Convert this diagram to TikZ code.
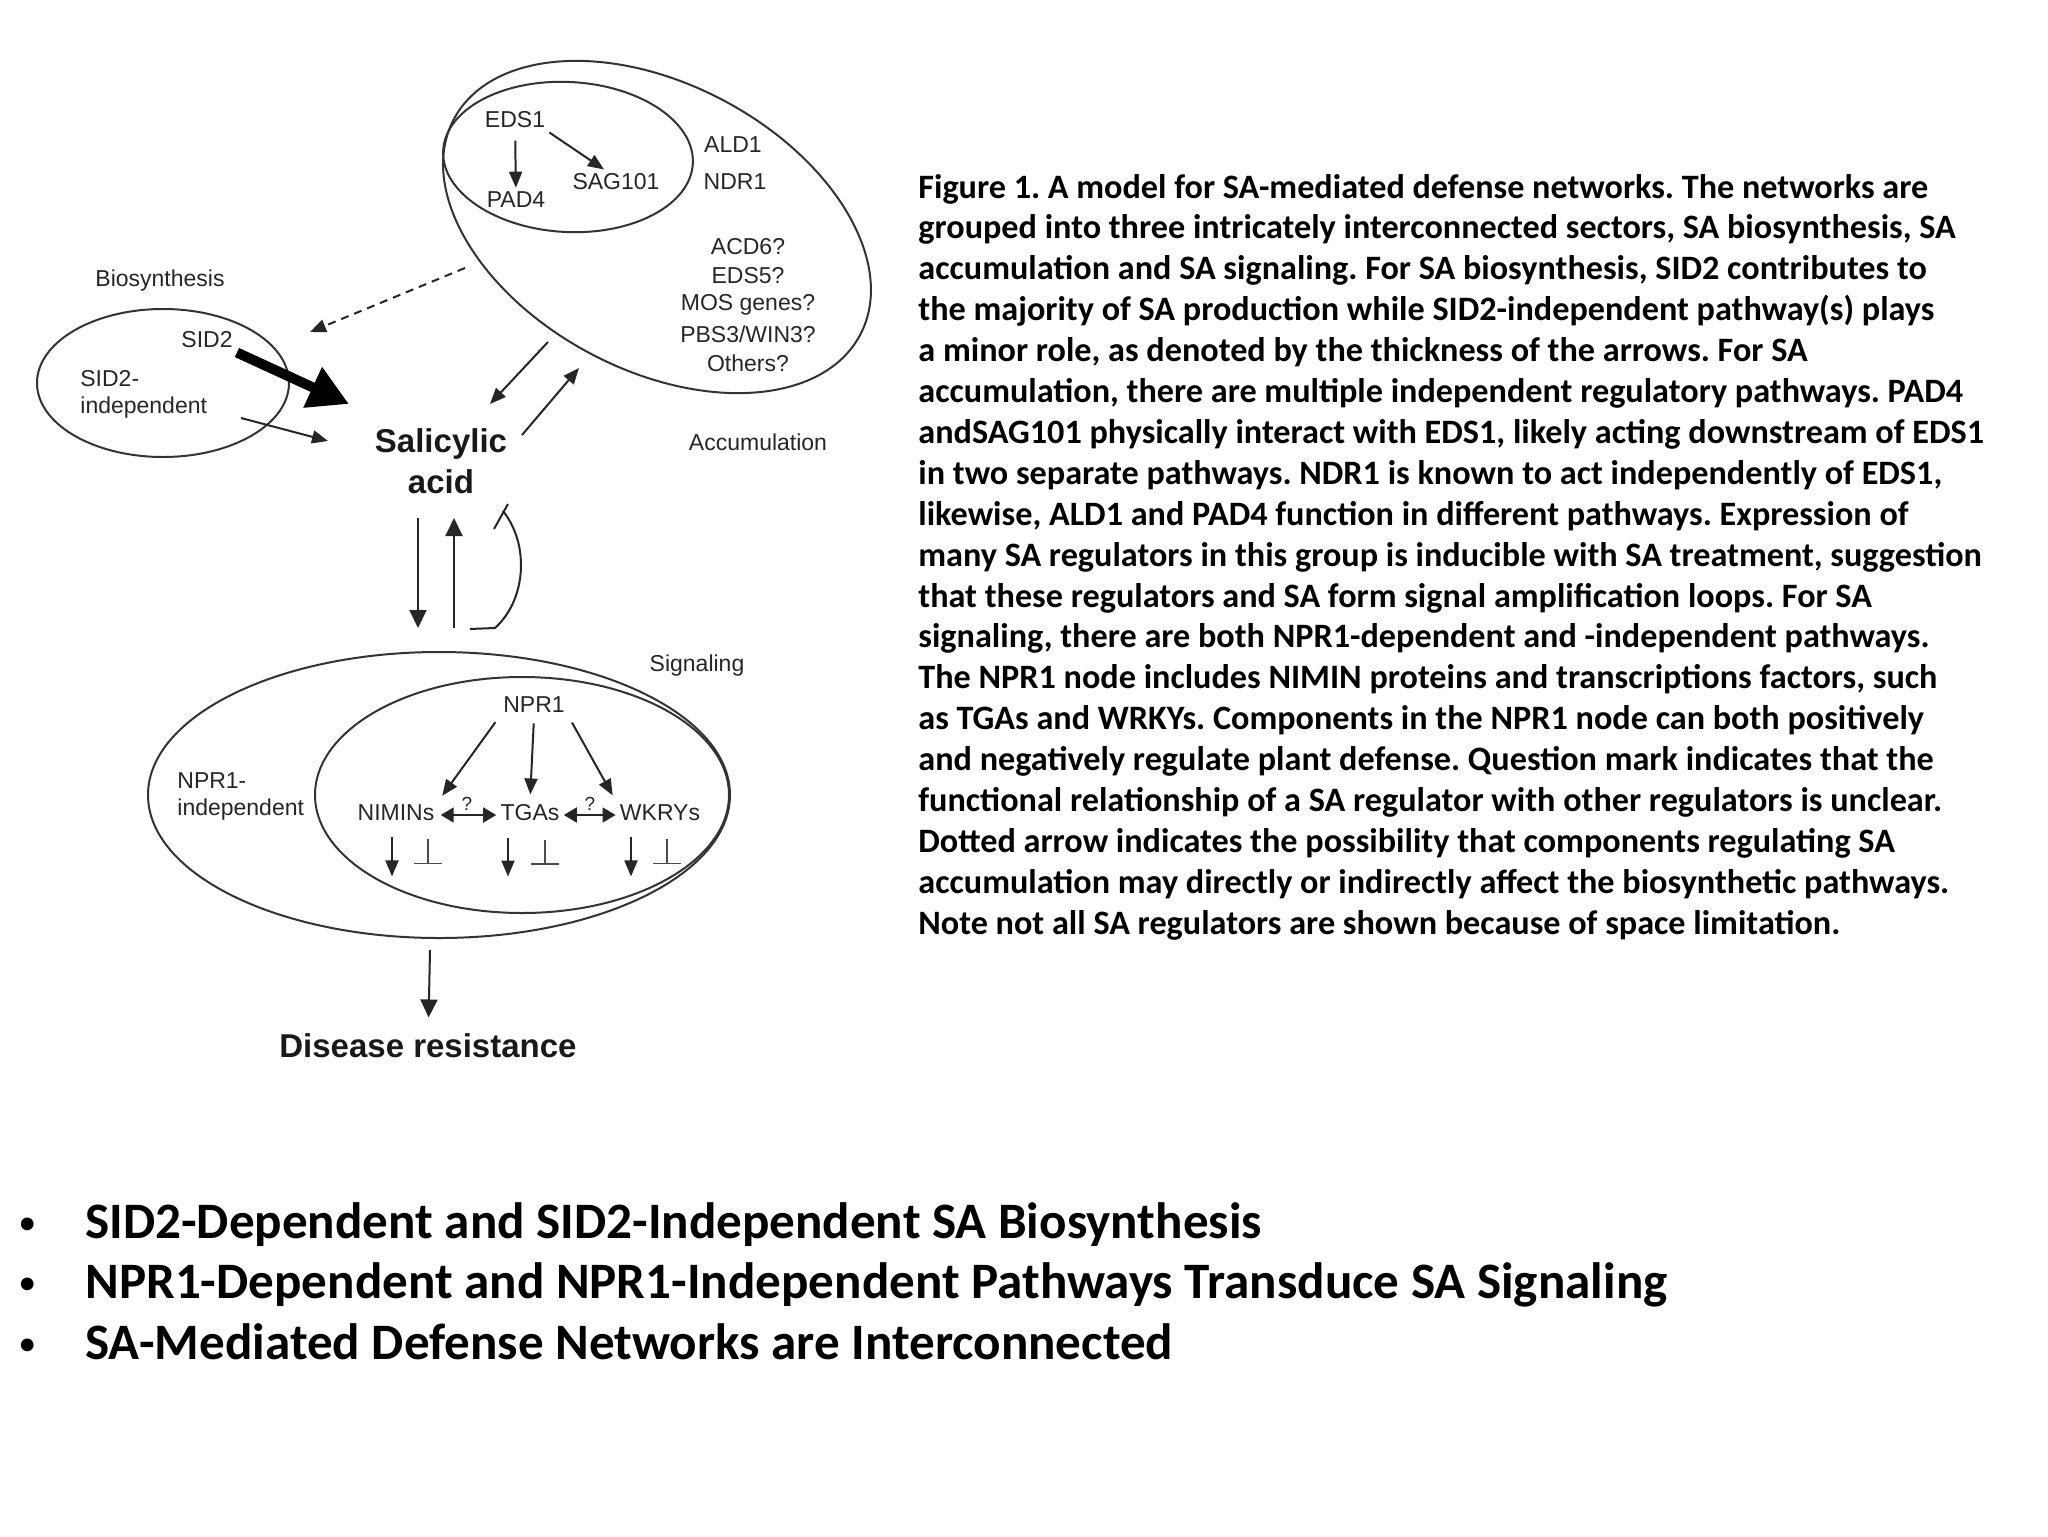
\documentclass[tikz,border=0pt]{standalone}
\usepackage{fontspec}
\setmainfont{Liberation Sans}
\newfontfamily\capfont{Carlito}
\usetikzlibrary{arrows.meta}
\frenchspacing

\tikzset{
  lbl/.style={font=\fontsize{11.5}{13.5}\selectfont, inner sep=2pt, text=black!85},
  satext/.style={font=\fontsize{16.5}{20.5}\selectfont\bfseries, inner sep=2pt, align=center, text=black!90},
  qmark/.style={font=\fontsize{9.5}{10}\selectfont, inner sep=0pt, text=black!85},
  ring/.style={draw=black!80, line width=1pt},
  flow/.style={draw=black!85, line width=1pt, -{Triangle[length=8pt,width=6.5pt]}},
  flowbig/.style={draw=black!85, line width=1pt, -{Triangle[length=9pt,width=8.5pt]}},
  both/.style={draw=black!85, line width=0.8pt, {Triangle[length=6.5pt,width=7.5pt]}-{Triangle[length=6.5pt,width=7.5pt]}},
  block/.style={draw=black!70, line width=0.8pt, -{Bar[width=14pt]}},
  captext/.style={font=\capfont\bfseries\fontsize{17.1}{20.45}\selectfont, anchor=base west, inner sep=0pt},
  point/.style={font=\capfont\bfseries\fontsize{25.55}{30.4}\selectfont, anchor=base west, inner sep=0pt},
}

\begin{document}
\begin{tikzpicture}[x=0.5pt,y=-0.5pt]

    % white page, reference size
    \fill[white] (0,0) rectangle (2048,1536);
    \useasboundingbox (0,0) rectangle (2048,1536);

    % sectors
    \draw[ring, rotate around={-28:(657,227)}] (657,227) ellipse [x radius=115pt, y radius=71.5pt];
    \draw[ring, rotate around={-3:(568,157)}] (568,157) ellipse [x radius=62.5pt, y radius=37.5pt];
    \draw[ring] (163,383) ellipse [x radius=63pt, y radius=37pt];
    \draw[ring] (439,795) ellipse [x radius=145.5pt, y radius=71.5pt];
    \draw[ring] (522,795) ellipse [x radius=103.5pt, y radius=59pt];

    % biosynthesis
    \node[lbl] (bio) at (160,281) {Biosynthesis};
    \node[lbl] (sid2) at (207,340) {SID2};
    \node[lbl, align=left, anchor=west] (sid2i) at (76,394) {SID2-\\independent};

    % salicylic acid
    \node[satext] (sa) at (441,461) {Salicylic\\acid};

    % accumulation
    \node[lbl] (accum) at (758,442) {Accumulation};
    \node[lbl] (eds1) at (515,120) {EDS1};
    \node[lbl] (pad4) at (516,200) {PAD4};
    \node[lbl] (sag) at (616,182) {SAG101};
    \node[lbl] (ald1) at (733,145) {ALD1};
    \node[lbl] (ndr1) at (735,182) {NDR1};
    \foreach \g [count=\i from 0] in {ACD6?, EDS5?, MOS genes?, PBS3/WIN3?, Others?}
        \node[lbl] (acc\i) at (748,{247+29*\i}) {\g};

    % signaling
    \node[lbl] (signal) at (697,666) {Signaling};
    \node[lbl] (npr1) at (534,705) {NPR1};
    \node[lbl, align=left, anchor=west] (npr1i) at (173,796) {NPR1-\\independent};
    \node[lbl] (nimin) at (396,813) {NIMINs};
    \node[lbl] (tga) at (530,813) {TGAs};
    \node[lbl] (wrky) at (660,813) {WKRYs};
    \node[qmark] (q1) at (467,804) {?};
    \node[qmark] (q2) at (590,804) {?};

    \node[satext] (dis) at (428,1046) {Disease resistance};

    % free ends of connectors
    \coordinate (acc-w) at (465,268);
    \coordinate (bio-ne) at (310,332);
    \coordinate (sa-in1) at (349,404);
    \coordinate (sid2i-e) at (241,418);
    \coordinate (sa-in2) at (328,441);
    \coordinate (acc-sw) at (548,342);
    \coordinate (sa-ne) at (490,404);
    \coordinate (sa-e) at (522,435);
    \coordinate (acc-s) at (579,368);
    \coordinate (sa-s1) at (418,518);
    \coordinate (sig-n1) at (418,628);
    \coordinate (sig-n2) at (454,628);
    \coordinate (sa-s2) at (454,518);
    \coordinate (loop-a) at (470,629);
    \coordinate (loop-b) at (495,628);
    \coordinate (loop-c) at (503,511);
    \coordinate (sig-s) at (430,950);

    % biosynthesis arrows
    \draw[flow, dash pattern=on 4pt off 3pt] (acc-w) -- (bio-ne);
    \draw[draw=black, line width=5pt, -{Triangle[length=20pt,width=21pt]}] (sid2.south east) -- (sa-in1);
    \draw[flow] (sid2i-e) -- (sa-in2);

    % accumulation arrows
    \draw[flow, shorten <=4pt] (eds1) -- (pad4);
    \draw[flow] (eds1.south east) -- ([xshift=-6pt]sag.north);
    \draw[flow] (acc-sw) -- (sa-ne);
    \draw[flow] (sa-e) -- (acc-s);

    % to and from signaling
    \draw[flowbig] (sa-s1) -- (sig-n1);
    \draw[flowbig] (sig-n2) -- (sa-s2);
    \draw[draw=black!85, line width=1pt] (loop-a) -- (loop-b) .. controls (526,600) and (530,545) .. (loop-c);
    \draw[draw=black!85, line width=1pt] (494,529) -- (508,504);

    % NPR1 node
    \draw[flow, shorten <=3pt, shorten >=3pt] (npr1.south west) -- (nimin.north east);
    \draw[flow, shorten <=3pt, shorten >=3pt] (npr1.south) -- (tga.north);
    \draw[flow, shorten <=3pt, shorten >=3pt] (npr1.south east) -- (wrky.north west);
    \draw[both, shorten <=1pt] ([yshift=-1pt]nimin.east) -- ([yshift=-1pt]tga.west);
    \draw[both] ([yshift=-1pt]tga.east) -- ([yshift=-1pt]wrky.west);
    \foreach \n/\da/\db in {nimin/-2/16, tga/-11/7.5, wrky/-14.5/3.5} {
        \draw[flow] ([shift={(\da pt,-6pt)}]\n.south) -- ([shift={(\da pt,-25.5pt)}]\n.south);
        \draw[block] ([shift={(\db pt,-7pt)}]\n.south) -- ([shift={(\db pt,-19.5pt)}]\n.south);
    }

    \draw[flowbig, shorten >=6pt] (sig-s) -- (dis);

    % caption
    \foreach \txt [count=\i from 0] in {
        {Figure 1. A model for SA-mediated defense networks. The networks are},
        {grouped into three intricately interconnected sectors, SA biosynthesis, SA},
        {accumulation and SA signaling. For SA biosynthesis, SID2 contributes to},
        {the majority of SA production while SID2-independent pathway(s) plays},
        {a minor role, as denoted by the thickness of the arrows. For SA},
        {accumulation, there are multiple independent regulatory pathways. PAD4},
        {andSAG101 physically interact with EDS1, likely acting downstream of EDS1},
        {in two separate pathways. NDR1 is known to act independently of EDS1,},
        {likewise, ALD1 and PAD4 function in different pathways. Expression of},
        {many SA regulators in this group is inducible with SA treatment, suggestion},
        {that these regulators and SA form signal amplification loops. For SA},
        {signaling, there are both NPR1-dependent and -independent pathways.},
        {The NPR1 node includes NIMIN proteins and transcriptions factors, such},
        {as TGAs and WRKYs. Components in the NPR1 node can both positively},
        {and negatively regulate plant defense. Question mark indicates that the},
        {functional relationship of a SA regulator with other regulators is unclear.},
        {Dotted arrow indicates the possibility that components regulating SA},
        {accumulation may directly or indirectly affect the biosynthetic pathways.},
        {Note not all SA regulators are shown because of space limitation.}}
        \node[captext] (cap\i) at (918,{198+40.9*\i}) {\txt};

    % bullet points
    \foreach \txt [count=\i from 0] in {
        {SID2-Dependent and SID2-Independent SA Biosynthesis},
        {NPR1-Dependent and NPR1-Independent Pathways Transduce SA Signaling},
        {SA-Mediated Defense Networks are Interconnected}} {
        \node[point, font=\capfont\fontsize{18}{20}\selectfont] (dot\i) at (18,{1234+60.5*\i}) {•};
        \node[point] (pt\i) at (85,{1238+60.5*\i}) {\txt};
    }
\end{tikzpicture}
\end{document}
